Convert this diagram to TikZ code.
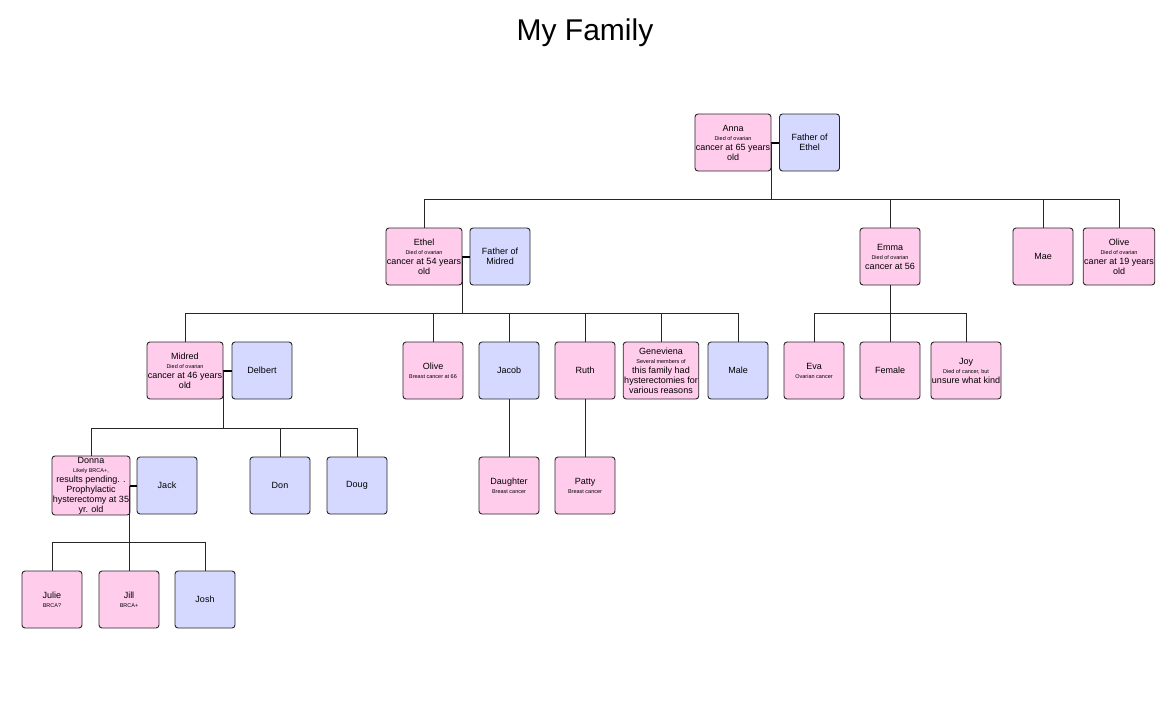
\documentclass[tikz,border=0pt]{standalone}
\usepackage{fontspec}
\setmainfont{Liberation Sans}
\definecolor{pk}{HTML}{FFCCEC}
\definecolor{bl}{HTML}{D5D9FF}
\newcommand{\pdtsm}{\fontsize{5.5}{6}\selectfont}
\begin{document}
\begin{tikzpicture}[x=1pt,y=-1pt,
  person/.style={draw=black!85,line width=0.9pt,rounded corners=3pt,minimum width=60pt,minimum height=57pt,inner sep=1pt,align=center,font=\fontsize{9}{10}\selectfont},
  fem/.style={person,fill=pk},
  mal/.style={person,fill=bl},
  ln/.style={draw=black!85,line width=0.8pt},
  cp/.style={draw=black,line width=2pt}]
\useasboundingbox (0,0) rectangle (1158,705);
\node (title) at (585,33) {\fontsize{30}{34}\selectfont My Family};
% level 0
\node[fem] (anna) at (733,142.5) {Anna\\[-1pt]\pdtsm Died of ovarian\\cancer at 65 years\\old};
\node[mal] (foe) at (809.5,142.5) {Father of\\Ethel};
% level 1
\node[fem] (ethel) at (424,256.5) {Ethel\\[-1pt]\pdtsm Died of ovarian\\cancer at 54 years\\old};
\node[mal] (fom) at (500,256.5) {Father of\\Midred};
\node[fem] (emma) at (890,256.5) {Emma\\[-1pt]\pdtsm Died of ovarian\\cancer at 56};
\node[fem] (mae) at (1043,256.5) {Mae};
\node[fem] (olive1) at (1119,256.5) {Olive\\[-1pt]\pdtsm Died of ovarian\\caner at 19 years\\old};
% level 2
\node[fem] (midred) at (185,370.5) {Midred\\[-1pt]\pdtsm Died of ovarian\\cancer at 46 years\\old};
\node[mal] (delbert) at (262,370.5) {Delbert};
\node[fem] (olive2) at (433,370.5) {Olive\\[-1pt]\pdtsm Breast cancer at 66};
\node[mal] (jacob) at (509,370.5) {Jacob};
\node[fem] (ruth) at (585,370.5) {Ruth};
\node[fem] (gen) at (661,370.5) {Geneviena\\[-1pt]\pdtsm Several members of\\this family had\\hysterectomies for\\various reasons};
\node[mal] (male) at (738,370.5) {Male};
\node[fem] (eva) at (814,370.5) {Eva\\[-1pt]\pdtsm Ovarian cancer};
\node[fem] (female) at (890,370.5) {Female};
\node[fem] (joy) at (966,370.5) {Joy\\[-1pt]\pdtsm Died of cancer, but\\unsure what kind};
% level 3
\node[fem] (donna) at (91,485.5) {Donna\\[-1pt]\pdtsm Likely BRCA+,\\results pending. .\\Prophylactic\\hysterectomy at 35\\yr. old};
\node[mal] (jack) at (167,485.5) {Jack};
\node[mal] (don) at (280,485.5) {Don};
\node[mal] (doug) at (357,485.5) {Doug};
\node[fem] (daughter) at (509,485.5) {Daughter\\[-1pt]\pdtsm Breast cancer};
\node[fem] (patty) at (585,485.5) {Patty\\[-1pt]\pdtsm Breast cancer};
% level 4
\node[fem] (julie) at (52,599.5) {Julie\\[-1pt]\pdtsm BRCA?};
\node[fem] (jill) at (129,599.5) {Jill\\[-1pt]\pdtsm BRCA+};
\node[mal] (josh) at (205,599.5) {Josh};
% couples
\draw[cp] (anna.east) -- (foe.west);
\draw[cp] (ethel.east) -- (fom.west);
\draw[cp] (midred.east) -- (delbert.west);
\draw[cp] (donna.east) -- (jack.west);
% anna family
\draw[ln] (771,142.5) -- (771,199) (ethel.north) |- (olive1.north |- 0,199) -- (olive1.north);
\draw[ln] (emma.north) -- (emma.north |- 0,199) (mae.north) -- (mae.north |- 0,199);
% ethel family
\draw[ln] (462,256.5) -- (462,313) (midred.north) |- (male.north |- 0,313) -- (male.north);
\foreach \n in {olive2,jacob,ruth,gen} \draw[ln] (\n.north) -- (\n.north |- 0,313);
% emma family
\draw[ln] (emma.south) -- (female.north);
\draw[ln] (eva.north) |- (joy.north |- 0,313) -- (joy.north);
% midred family
\draw[ln] (223,370.5) -- (223,428) (donna.north) |- (doug.north |- 0,428) -- (doug.north);
\draw[ln] (don.north) -- (don.north |- 0,428);
\draw[ln] (jacob.south) -- (daughter.north);
\draw[ln] (ruth.south) -- (patty.north);
% donna family
\draw[ln] (129,485.5) -- (jill.north);
\draw[ln] (julie.north) |- (josh.north |- 0,542) -- (josh.north);
\end{tikzpicture}
\end{document}
